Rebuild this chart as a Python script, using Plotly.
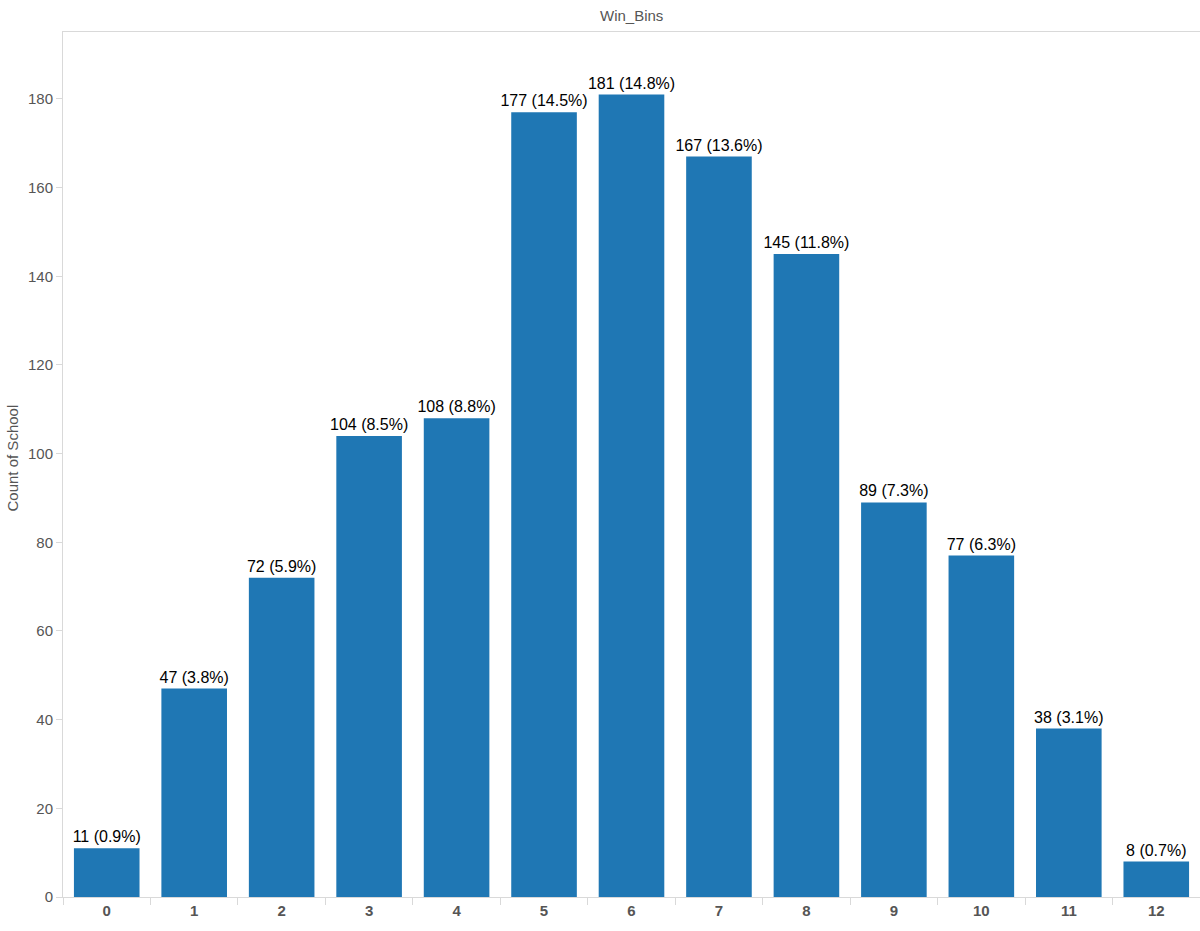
import plotly.graph_objects as go

categories = ["0", "1", "2", "3", "4", "5", "6", "7", "8", "9", "10", "11", "12"]
counts = [11, 47, 72, 104, 108, 177, 181, 167, 145, 89, 77, 38, 8]
y_ticks = [0, 20, 40, 60, 80, 100, 120, 140, 160, 180]

total = sum(counts)
labels = [f"{c} ({c / total * 100:.1f}%)" for c in counts]

FONT = "Liberation Sans, Arial, Helvetica, sans-serif"
GRID = "#d9d9d9"

fig = go.Figure(
    go.Bar(
        x=categories,
        y=counts,
        text=labels,
        textposition="outside",
        constraintext="none",
        textfont=dict(family=FONT, size=16, color="#000000"),
        marker=dict(color="#1f77b4", line=dict(width=0)),
        cliponaxis=False,
        hoverinfo="skip",
    )
)

fig.update_layout(
    width=1200,
    height=931,
    margin=dict(l=63, r=0, t=32, b=34),
    paper_bgcolor="white",
    plot_bgcolor="white",
    bargap=0.25,
    showlegend=False,
    uniformtext=dict(mode=False),
    font=dict(family=FONT, color="#555555"),
    xaxis=dict(
        type="category",
        tickson="boundaries",
        ticks="outside",
        ticklen=7,
        tickcolor=GRID,
        showline=True,
        linecolor=GRID,
        linewidth=1,
        mirror=True,
        showgrid=False,
        tickfont=dict(family=FONT, size=15, color="#555555", weight="bold"),
    ),
    yaxis=dict(
        range=[0, 195.1],
        tickvals=y_ticks,
        ticks="outside",
        ticklen=6,
        tickcolor=GRID,
        showline=True,
        linecolor=GRID,
        showgrid=False,
        zeroline=False,
        tickfont=dict(family=FONT, size=15, color="#555555"),
    ),
    annotations=[
        dict(
            text="Win_Bins",
            xref="paper", yref="paper", x=0.5, y=1,
            xanchor="center", yanchor="bottom", yshift=6,
            showarrow=False,
            font=dict(family=FONT, size=15, color="#555555"),
        ),
        dict(
            text="Count of School",
            xref="paper", yref="paper", x=0, y=0.5,
            xanchor="center", yanchor="middle", xshift=-51, yshift=6,
            textangle=-90,
            showarrow=False,
            font=dict(family=FONT, size=15, color="#555555"),
        ),
    ],
)

fig.write_html("out.html")
